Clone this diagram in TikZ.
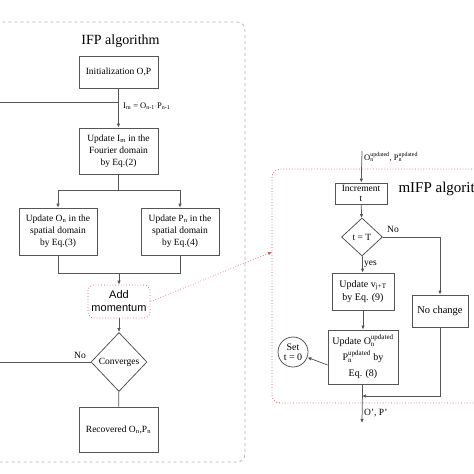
\documentclass[tikz,border=0pt]{standalone}
\usepackage{amsmath}
\usepackage{fontspec}
\setmainfont{Liberation Serif}
\newfontfamily\momfont{Liberation Sans}
\usetikzlibrary{shapes.geometric,arrows.meta}
\definecolor{dashgray}{RGB}{175,175,175}
\definecolor{dotred}{RGB}{205,95,105}
\definecolor{linegray}{RGB}{85,85,85}
\newcommand\supsubx[2]{$^{\text{#1}}_{\text{#2}}$}
\begin{document}
\begin{tikzpicture}[x=1pt,y=-1pt,
  box/.style={draw=linegray, line width=0.8pt, fill=white, inner sep=1pt, align=center,
    font=\fontsize{9.5}{12}\selectfont},
  dia/.style={diamond, draw=linegray, line width=0.8pt, fill=white, inner sep=0pt, align=center,
    font=\fontsize{9.5}{12}\selectfont},
  arr/.style={-{Latex[length=4pt,width=3.5pt]}, draw=linegray, line width=0.75pt},
  ln/.style={draw=linegray, line width=0.75pt},
  redarr/.style={-{Latex[length=4pt,width=3.5pt]}, draw=dotred, line width=0.7pt, dotted},
  lbl/.style={inner sep=1pt, font=\fontsize{8.5}{10}\selectfont},
]
\useasboundingbox (0,0) rectangle (474,474);

% frames
\draw[dashgray, dashed, line width=0.7pt, rounded corners=8pt] (-10,22) rectangle (245,462);
\draw[dotred, dotted, line width=0.8pt, rounded corners=8pt] (272,169) rectangle (500,403);

\node[font=\fontsize{14}{16}\selectfont] (t1) at (120.5,41) {IFP algorithm};
\node[font=\fontsize{15}{17}\selectfont, anchor=west] (t2) at (395,189) {mIFP algorithm};

% IFP nodes
\node[box, minimum width=79pt, minimum height=32pt] (init) at (118.5,72) {Initialization O,P};
\node[box, minimum width=79pt, minimum height=46pt] (updI) at (118.5,151)
  {Update I\textsubscript{m} in the\\Fourier domain\\by Eq.(2)};
\node[box, minimum width=78pt, minimum height=47pt] (updO) at (58,231.5)
  {Update O\textsubscript{n} in the\\spatial domain\\by Eq.(3)};
\node[box, minimum width=78pt, minimum height=47pt] (updP) at (180,231.5)
  {Update P\textsubscript{n} in the\\spatial domain\\by Eq.(4)};
\node[draw=dotred, dotted, line width=0.8pt, rounded corners=6pt, minimum width=62pt,
  minimum height=33pt, align=center, inner sep=1pt,
  font=\momfont\fontsize{11}{13}\selectfont] (mom) at (119,301.5) {Add\\momentum};
\node[dia, minimum width=56pt, minimum height=59pt] (conv) at (119,362) {Converges};
\node[box, minimum width=79pt, minimum height=45pt] (rec) at (118.5,429.5)
  {Recovered O\textsubscript{n},P\textsubscript{n}};

\coordinate (fb) at (118.5,102);
\coordinate (fbL) at (-2,102);
\coordinate (split) at (118.5,190);
\coordinate (join) at (119,273);
\coordinate (convL) at (-2,362);
\coordinate (mifpL) at (272,252);

\draw[arr] (init) -- (updI);
\node[lbl, anchor=west] (il) at (122,106) {I\textsubscript{m} = O\textsubscript{n-1}$\cdot$P\textsubscript{n-1}};
\draw[ln] (fbL) -- (fb);
\draw[ln] (updI) -- (split);
\draw[arr] (split) -| (updO);
\draw[arr] (split) -| (updP);
\draw[ln] (updO) |- (join);
\draw[ln] (updP) |- (join);
\draw[arr] (join) -- (mom);
\draw[arr] (mom) -- (conv);
\draw[ln] (conv) -- (rec);
\draw[ln] (conv.west) -- (convL);
\node[lbl, font=\fontsize{9.5}{11}\selectfont] (nol) at (80,355) {No};
\draw[redarr] (mom.east) -- (mifpL);

% mIFP nodes
\coordinate (inp) at (362,151);
\node[box, minimum width=52pt, minimum height=21pt, font=\fontsize{9.5}{10}\selectfont]
  (inc) at (361,193.5) {Increment\\t};
\node[dia, minimum width=41pt, minimum height=38pt] (tT) at (362,237) {t = T};
\node[box, minimum width=62pt, minimum height=37pt, font=\fontsize{10}{13}\selectfont]
  (updv) at (363,291.5) {Update v\textsubscript{j+T}\\by Eq. (9)};
\node[box, minimum width=56pt, minimum height=32pt, font=\fontsize{10.5}{12}\selectfont]
  (nc) at (440,311) {No change};
\node[box, minimum width=70pt, minimum height=54pt, font=\fontsize{10}{16}\selectfont]
  (updO2) at (363,357) {Update O\supsubx{updated}{n}\\P\supsubx{updated}{n} by\\Eq. (8)};
\node[circle, draw=linegray, line width=0.8pt, minimum size=30pt, inner sep=0pt, align=center,
  font=\fontsize{10}{10}\selectfont] (set) at (293,352) {Set\\t = 0};
\coordinate (out) at (362,423);
\coordinate (joinR) at (362,396);

\draw[arr] (inp) -- (inc);
\node[lbl, anchor=west] (inl) at (363,157) {O\supsubx{updated}{n}, P\supsubx{updated}{n}};
\draw[arr] (inc) -- (tT);
\draw[arr] (tT.east) -| (nc);
\node[lbl, font=\fontsize{9.5}{11}\selectfont] (nor) at (393,229) {No};
\draw[arr] (tT) -- (updv);
\node[lbl, font=\fontsize{9.5}{11}\selectfont, anchor=west] (yes) at (363,264) {yes};
\draw[arr] (updv) -- (updO2);
\draw[arr] ([yshift=-8pt]updO2.west) -- (set);
\draw[arr] (updO2) -- (out);
\draw[arr] (nc) |- (joinR);
\node[lbl, font=\fontsize{9.5}{11}\selectfont, anchor=west] (ol) at (363,413) {O', P'};
\end{tikzpicture}
\end{document}
